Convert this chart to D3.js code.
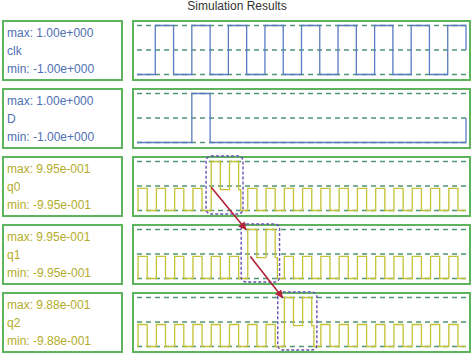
<!DOCTYPE html>
<html><head><meta charset="utf-8">
<script src="https://cdn.jsdelivr.net/npm/d3@7"></script>
<style>body{margin:0;background:#fff}svg{display:block}</style>
</head><body>
<svg id="c" width="474" height="355"></svg>
<script>
// ---- data ----
const title = "Simulation Results";
const names = ["clk", "D", "q0", "q1", "q2"];
const maxLabels = ["1.00e+000", "1.00e+000", "9.95e-001", "9.95e-001", "9.88e-001"];
const minLabels = ["-1.00e+000", "-1.00e+000", "-9.95e-001", "-9.95e-001", "-9.88e-001"];
const maxVals = [1, 1, 0.995, 0.995, 0.988];
const minVals = [-1, -1, -0.995, -0.995, -0.988];

const clkTimes = [0, 5, 10, 15, 20, 25, 30, 35, 40, 45, 50, 55, 60, 65, 70, 75, 80, 85, 90];
const clkVals  = [-1, 1, -1, 1, -1, 1, -1, 1, -1, 1, -1, 1, -1, 1, -1, 1, -1, 1, 0];

const dTimes = [0, 15, 20, 90];
const dVals  = [-1, 1, -1, 0];

const qTimes = [0, 0.3, 2.8, 5.3, 7.8, 10.3, 12.8, 15.3, 17.8, 20.3, 22.8, 25.3, 27.8, 28.4,
  30.3, 32.8, 35.3, 37.8, 38.4, 40.3, 42.8, 45.3, 47.8, 48.4, 50.3, 52.8, 55.3, 57.8, 60.3,
  62.8, 65.3, 67.8, 70.3, 72.8, 75.3, 77.8, 80.3, 82.8, 85.3, 87.8, 90];
const q0Vals = [-0.995, -0.1, -0.995, -0.1, -0.995, -0.1, -0.995, -0.1, -0.995, 0.995, -0.15, 0.995, -0.15, -0.995,
  -0.1, -0.995, -0.1, -0.995, -0.995, -0.1, -0.995, -0.1, -0.995, -0.995, -0.1, -0.995, -0.1, -0.995, -0.1,
  -0.995, -0.1, -0.995, -0.1, -0.995, -0.1, -0.995, -0.1, -0.995, -0.1, -0.995, -0.995];
const q1Vals = [-0.995, -0.1, -0.995, -0.1, -0.995, -0.1, -0.995, -0.1, -0.995, -0.1, -0.995, -0.1, -0.995, -0.995,
  0.995, -0.15, 0.995, -0.15, -0.995, -0.1, -0.995, -0.1, -0.995, -0.995, -0.1, -0.995, -0.1, -0.995, -0.1,
  -0.995, -0.1, -0.995, -0.1, -0.995, -0.1, -0.995, -0.1, -0.995, -0.1, -0.995, -0.995];
const q2Vals = [-0.988, -0.1, -0.988, -0.1, -0.988, -0.1, -0.988, -0.1, -0.988, -0.1, -0.988, -0.1, -0.988, -0.988,
  -0.1, -0.988, -0.1, -0.988, -0.988, 0.988, -0.15, 0.988, -0.15, -0.988, -0.1, -0.988, -0.1, -0.988, -0.1,
  -0.988, -0.1, -0.988, -0.1, -0.988, -0.1, -0.988, -0.1, -0.988, -0.1, -0.988, -0.988];

const seriesTimes = [clkTimes, dTimes, qTimes, qTimes, qTimes];
const seriesVals = [clkVals, dVals, q0Vals, q1Vals, q2Vals];

// highlight windows (time units) on q0, q1, q2
const windowRows = ["q0", "q1", "q2"];
const windowStart = [18.9, 28.5, 38.5];
const windowEnd = [29.0, 39.0, 49.2];

// arrows: from (time, value) on one row to (time, value) on next row
const arrowFromRow = ["q0", "q1"];
const arrowFromT = [20.3, 31.0];
const arrowFromV = [-0.05, -0.1];
const arrowToRow = ["q1", "q2"];
const arrowToT = [29.8, 39.8];
const arrowToV = [0.995, 0.988];

// ---- styles ----
const green = "#5db45d";
const gridCol = "#4f9474";
const blueText = "#4f6fb3", blueLine = "#5a7cc0";
const oliveText = "#b3ac2a", oliveLine = "#c4c236";
const textCols = [blueText, blueText, oliveText, oliveText, oliveText];
const lineCols = [blueLine, blueLine, oliveLine, oliveLine, oliveLine];
const font = "'Liberation Sans', Arial, sans-serif";

const svg = d3.select("#c");

svg.append("text").attr("x", 237).attr("y", 10).attr("text-anchor", "middle")
  .attr("font-family", font).attr("font-size", 12).attr("fill", "#333")
  .text(title);

const row = d3.scaleBand().domain(names).range([21, 352]).paddingInner(9 / 68).paddingOuter(0);
const x = d3.scaleLinear().domain([0, 90]).range([137, 466]);

function yScale(i) {
  const top = row(names[i]);
  return d3.scaleLinear().domain([minVals[i], maxVals[i]]).range([top + 53.5, top + 4.5]);
}

names.forEach((name, i) => {
  const top = row(name), h = row.bandwidth();
  const g = svg.append("g");
  // left label box
  g.append("rect").attr("x", 3).attr("y", top).attr("width", 119).attr("height", h)
    .attr("fill", "none").attr("stroke", green).attr("stroke-width", 2);
  const t = [["max: " + maxLabels[i], 16], [name, 34], ["min: " + minLabels[i], 52]];
  t.forEach(([s, dy]) => {
    g.append("text").attr("x", 7).attr("y", top + dy).attr("font-family", font)
      .attr("font-size", 12).attr("fill", textCols[i]).text(s);
  });
  // right plot box
  g.append("rect").attr("x", 133).attr("y", top).attr("width", 337).attr("height", h)
    .attr("fill", "none").attr("stroke", green).attr("stroke-width", 2);
  const y = yScale(i);
  [maxVals[i], 0, minVals[i]].forEach(v => {
    g.append("line").attr("x1", x(0)).attr("x2", x(90)).attr("y1", y(v)).attr("y2", y(v))
      .attr("stroke", gridCol).attr("stroke-width", 1.3).attr("stroke-dasharray", "5,4");
  });
  const pts = seriesTimes[i].map((tt, k) => [tt, seriesVals[i][k]]);
  const line = d3.line().x(d => x(d[0])).y(d => y(d[1])).curve(d3.curveStepAfter);
  g.append("path").attr("d", line(pts)).attr("fill", "none")
    .attr("stroke", lineCols[i]).attr("stroke-width", 1.3);
});

// highlight windows
windowRows.forEach((r, k) => {
  const top = row(r);
  svg.append("rect").attr("x", x(windowStart[k])).attr("y", top - 1)
    .attr("width", x(windowEnd[k]) - x(windowStart[k])).attr("height", row.bandwidth() - 1)
    .attr("rx", 5).attr("fill", "none").attr("stroke", "#6a50b5")
    .attr("stroke-width", 1.4).attr("stroke-dasharray", "3,2");
});

// arrows
const defs = svg.append("defs");
defs.append("marker").attr("id", "ah").attr("viewBox", "0 0 10 10").attr("refX", 9).attr("refY", 5)
  .attr("markerWidth", 5).attr("markerHeight", 5).attr("orient", "auto")
  .append("path").attr("d", "M0,0L10,5L0,10z").attr("fill", "#b3213a");
arrowFromRow.forEach((r, k) => {
  const yi = yScale(names.indexOf(r)), yj = yScale(names.indexOf(arrowToRow[k]));
  svg.append("line").attr("x1", x(arrowFromT[k])).attr("y1", yi(arrowFromV[k]))
    .attr("x2", x(arrowToT[k])).attr("y2", yj(arrowToV[k]))
    .attr("stroke", "#b3213a").attr("stroke-width", 1.6).attr("marker-end", "url(#ah)");
});
</script>
</body></html>
